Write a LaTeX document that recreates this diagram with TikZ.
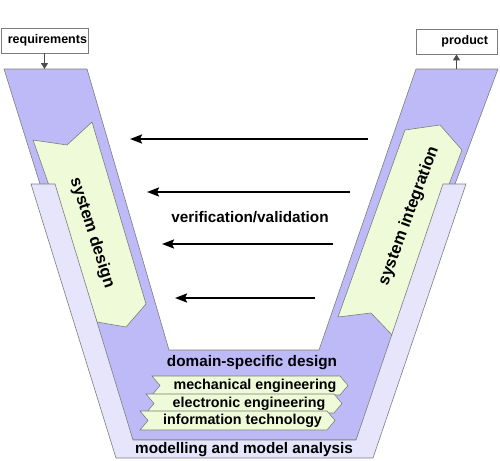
\documentclass[tikz,border=0pt]{standalone}
\usepackage{fontspec}
\setmainfont{Liberation Sans}
\usetikzlibrary{arrows.meta}
\definecolor{vblue}{RGB}{190,186,248}
\definecolor{vlight}{RGB}{231,229,252}
\definecolor{vgreen}{RGB}{238,250,216}
\definecolor{vline}{RGB}{125,125,125}

\begin{document}
\begin{tikzpicture}[x=1pt,y=-1pt,line join=miter,
  every node/.style={inner sep=0pt},
  band/.style={draw=vline,line width=0.6pt},
  flag/.style={band,fill=vgreen},
  lbl/.style={font=\fontsize{15.3}{18}\selectfont\bfseries},
  domlbl/.style={font=\fontsize{14.3}{17}\selectfont\bfseries},
  armlbl/.style={font=\fontsize{16.5}{19}\selectfont\bfseries},
  iobox/.style={draw=vline,line width=0.8pt,fill=white,minimum height=25pt,align=right,
    font=\fontsize{12.5}{15}\selectfont\bfseries},
  ioarrow/.style={draw=black!70,line width=1.4pt,-{Triangle[length=6pt,width=7pt]}},
  vv/.style={line width=2pt,-{Stealth[length=12pt,width=9pt,inset=2pt]}}]
  \useasboundingbox (0,0) rectangle (500,460);
  % V body
  \draw[band,fill=vblue] (4,69) -- (87,69) -- (169,350) -- (319,350) -- (416,69) -- (498,69)
    -- (455,184) -- (356,440) -- (133,440) -- (40,184) -- cycle;
  % arms
  \draw[flag] (33,140) -- (67,145) -- (92,122) -- (146,304) -- (126,327) -- (97,322) -- cycle;
  \draw[flag] (405,130) -- (440,125) -- (462,150) -- (392,335) -- (371,313) -- (338,317) -- cycle;
  \node[armlbl,rotate=-72.2] (design) at (92,233) {system design};
  \node[armlbl,rotate=69.8] (integ) at (409,216) {system integration};
  % modelling band
  \draw[band,fill=vlight] (31,184) -- (55,184) -- (133,440) -- (356,440) -- (443,184) -- (466,184)
    -- (373,458) -- (116,458) -- cycle;
  \node[lbl] (model) at (244,450) {modelling and model analysis};
  % domains
  \node[lbl] (domain) at (252,363) {domain-specific design};
  \foreach \i/\xl/\xr/\yt/\txt in {1/152/340/376/mechanical engineering,
      2/146/334/394/electronic engineering,
      3/140/327/411/information technology}{
    \draw[flag] (\xl,\yt) -- (\xr,\yt) -- (\xr+8,\yt+9.5) -- (\xr,\yt+19) -- (\xl,\yt+19)
      -- (\xl+8,\yt+9.5) -- cycle;
    \node[domlbl] (dom\i) at ({(\xl+\xr)/2+9},\yt+10) {\txt};
  }
  % verification
  \foreach \i/\xs/\xe/\y in {1/368/130/139, 2/350/147/192, 3/333/162/244, 4/315/175/298}{
    \coordinate (vs\i) at (\xs,\y);
    \coordinate (ve\i) at (\xe,\y);
    \draw[vv] (vs\i) -- (ve\i);
  }
  \node[lbl] (verif) at (250,217) {verification/validation};
  % in and out
  \node[iobox,minimum width=87pt,text width=85pt,inner xsep=1pt] (req) at (44.5,40.5) {requirements};
  \node[iobox,minimum width=81pt,text width=63pt,inner xsep=9pt] (prod) at (456.5,41.5) {product};
  \coordinate (reqin) at (44.5,69);
  \coordinate (prodout) at (456.5,69);
  \draw[ioarrow] (req) -- (reqin);
  \draw[ioarrow] (prodout) -- (prod);
\end{tikzpicture}
\end{document}
